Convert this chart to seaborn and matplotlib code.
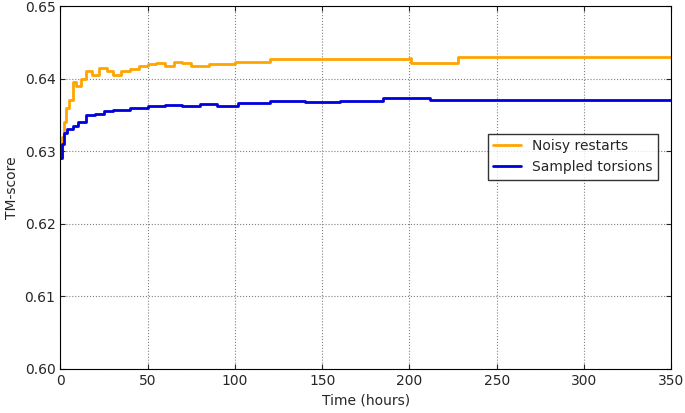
import matplotlib
matplotlib.use("Agg")
import matplotlib.pyplot as plt
import seaborn as sns
import pandas as pd

noisy_t = [0,1,2,3,5,7,9,12,15,18,22,27,30,35,40,45,50,55,60,65,70,75,85,100,120,150,200,201,225,228,350]
noisy_v = [0.629,0.632,0.634,0.636,0.637,0.6395,0.639,0.640,0.641,0.6405,0.6415,0.641,0.6405,0.641,0.6413,0.6418,0.642,0.6422,0.6418,0.6423,0.6422,0.6418,0.642,0.6423,0.6427,0.6427,0.6428,0.6421,0.6422,0.643,0.643]
samp_t = [0,1,2,4,7,10,15,20,25,30,40,50,60,70,80,90,100,102,120,140,160,185,212,350]
samp_v = [0.629,0.631,0.6325,0.633,0.6335,0.634,0.635,0.6352,0.6356,0.6357,0.636,0.6362,0.6364,0.6363,0.6365,0.6362,0.6363,0.6367,0.6369,0.6368,0.6369,0.6373,0.6371,0.637]

sns.set_style("ticks")
plt.rcParams['font.family'] = ['DejaVu Sans']
df = pd.concat([
    pd.DataFrame({"t": noisy_t, "v": noisy_v, "s": "Noisy restarts"}),
    pd.DataFrame({"t": samp_t, "v": samp_v, "s": "Sampled torsions"}),
])
fig, ax = plt.subplots(figsize=(6.85, 4.13), dpi=100)
sns.lineplot(data=df, x="t", y="v", hue="s", palette=["#ffa500", "#0000dd"],
             drawstyle="steps-post", linewidth=2, ax=ax, estimator=None)
ax.set_xlim(0, 350)
ax.set_ylim(0.60, 0.65)
ax.set_xlabel("Time (hours)", fontsize=10)
ax.set_ylabel("TM-score", fontsize=10)
ax.grid(True, linestyle=":", color="gray", linewidth=0.8)
ax.tick_params(direction="in", top=True, right=True, labelsize=10)
for sp in ax.spines.values():
    sp.set_color("black")
ax.legend(title=None, loc="center right", bbox_to_anchor=(0.99, 0.585), fancybox=False,
          edgecolor="black", fontsize=10)
fig.subplots_adjust(left=0.088, right=0.98, top=0.985, bottom=0.107)
fig.savefig("out.png")
